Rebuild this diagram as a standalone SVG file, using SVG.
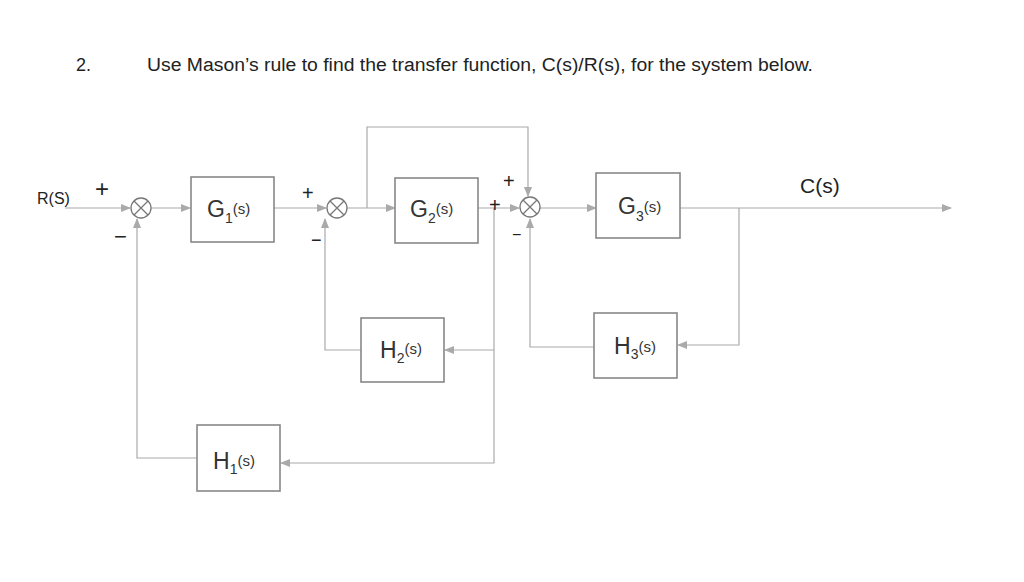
<svg xmlns="http://www.w3.org/2000/svg" width="1024" height="582" viewBox="0 0 1024 582">
<defs>
<marker id="ar" markerWidth="10" markerHeight="8" refX="9" refY="4" orient="auto" markerUnits="userSpaceOnUse"><path d="M0,0 L10,4 L0,8 Z" fill="#aaa"/></marker>
<style>
.b{fill:#fff;stroke:#888;stroke-width:1.6}
.s{fill:#fff;stroke:#777;stroke-width:1.3}
.c{fill:none;stroke:#aaa;stroke-width:1.2}
.t{font-family:"Liberation Sans",sans-serif;fill:#222}
.h{font-family:"Liberation Sans",sans-serif;fill:#333;font-size:23px}
.g{font-size:15px}
.sub{font-size:14px}
</style>
</defs>
<rect width="1024" height="582" fill="#fff"/>
<text class="t" x="76" y="71" font-size="18">2.</text>
<text class="t" x="147" y="71" font-size="18" textLength="666" lengthAdjust="spacingAndGlyphs">Use Mason’s rule to find the transfer function, C(s)/R(s), for the system below.</text>

<g id="connectors">
<path class="c" d="M65,208 H130" marker-end="url(#ar)"/>
<path class="c" d="M151,208 H190" marker-end="url(#ar)"/>
<path class="c" d="M274,208 H326" marker-end="url(#ar)"/>
<path class="c" d="M347,208 H395" marker-end="url(#ar)"/>
<path class="c" d="M367,208 V127 H528 V196" marker-end="url(#ar)"/>
<path class="c" d="M478,208 H519" marker-end="url(#ar)"/>
<path class="c" d="M540,208 H596" marker-end="url(#ar)"/>
<path class="c" d="M680,208 H951" marker-end="url(#ar)"/>
<path class="c" d="M739,208 V345 H678" marker-end="url(#ar)"/>
<path class="c" d="M594,347 H530 V219" marker-end="url(#ar)"/>
<path class="c" d="M494,208 V463 H281" marker-end="url(#ar)"/>
<path class="c" d="M494,350 H445" marker-end="url(#ar)"/>
<path class="c" d="M361,350 H325 V219" marker-end="url(#ar)"/>
<path class="c" d="M197,458 H137 V219" marker-end="url(#ar)"/>
</g>

<g id="sum1"><circle class="s" cx="141" cy="208" r="10"/><path class="s" d="M134,201 L148,215 M148,201 L134,215"/></g>
<g id="sum2"><circle class="s" cx="337" cy="208" r="10"/><path class="s" d="M330,201 L344,215 M344,201 L330,215"/></g>
<g id="sum3"><circle class="s" cx="530" cy="207" r="10"/><path class="s" d="M523,200 L537,214 M537,200 L523,214"/></g>

<g id="G1"><rect class="b" x="191" y="177" width="83" height="65"/><text class="h" x="207" y="217">G<tspan class="sub" dy="6">1</tspan><tspan class="g" dy="-9">(s)</tspan></text></g>
<g id="G2"><rect class="b" x="395" y="178" width="83" height="65"/><text class="h" x="410" y="217">G<tspan class="sub" dy="6">2</tspan><tspan class="g" dy="-9">(s)</tspan></text></g>
<g id="G3"><rect class="b" x="596" y="173" width="84" height="65"/><text class="h" x="618" y="214">G<tspan class="sub" dy="7">3</tspan><tspan class="g" dy="-9">(s)</tspan></text></g>
<g id="H2"><rect class="b" x="361" y="318" width="83" height="64"/><text class="h" x="380" y="358">H<tspan class="sub" dy="5">2</tspan><tspan class="g" dy="-9">(s)</tspan></text></g>
<g id="H3"><rect class="b" x="594" y="313" width="83" height="65"/><text class="h" x="614" y="354">H<tspan class="sub" dy="5">3</tspan><tspan class="g" dy="-7">(s)</tspan></text></g>
<g id="H1"><rect class="b" x="197" y="425" width="83" height="66"/><text class="h" x="213" y="469">H<tspan class="sub" dy="5">1</tspan><tspan class="g" dy="-8">(s)</tspan></text></g>

<g id="labels" class="t">
<text x="37" y="204" font-size="16">R(S)</text>
<text x="95" y="197" font-size="24">+</text>
<text x="114" y="244" font-size="22">−</text>
<text x="302" y="200" font-size="20">+</text>
<text x="311" y="246" font-size="18">−</text>
<text x="503" y="188" font-size="20">+</text>
<text x="489" y="212" font-size="20">+</text>
<text x="512" y="240" font-size="16">−</text>
<text x="800" y="193" font-size="21">C(s)</text>
</g>
</svg>
